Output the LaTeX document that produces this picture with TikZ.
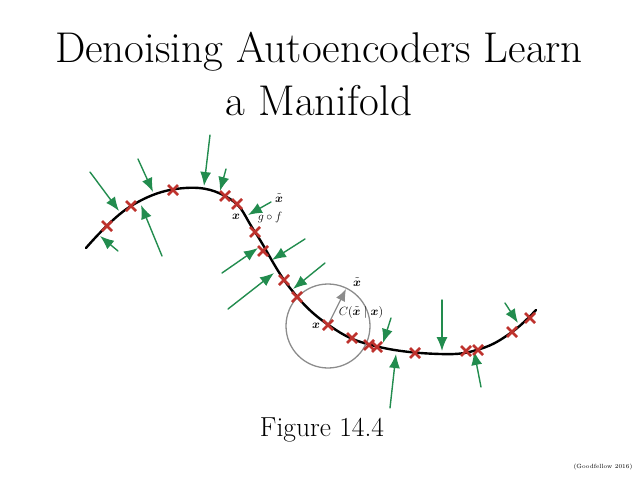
\documentclass[tikz,border=0pt]{standalone}
\usepackage{amsmath,amssymb,bm}
\usetikzlibrary{arrows.meta}
\definecolor{Agreen}{RGB}{34,140,78}
\definecolor{Xred}{RGB}{190,50,45}
\definecolor{Cgray}{RGB}{140,140,140}

\begin{document}
\begin{tikzpicture}[x=1pt,y=-1pt,line cap=round,line join=round,
  push/.style={draw=Agreen,line width=1.4pt,-{Latex[length=14pt,width=11pt]}},
  xmark/.style={draw=Xred,line width=2.6pt,line cap=butt},
  lbl/.style={font=\fontsize{12.5}{14}\selectfont,inner sep=0pt}]
\path[use as bounding box] (0,0) rectangle (638,479);
% title
\node[font=\fontsize{43}{48}\selectfont,anchor=base] (title1) at (319,62) {Denoising Autoencoders Learn};
\node[font=\fontsize{43}{48}\selectfont,anchor=base] (title2) at (319,115) {a Manifold};
% manifold
\draw[line width=2.4pt] plot[smooth,tension=0.7] coordinates {(86,248) (131,206) (185,188) (230,199) (255,232) (290,288) (330,326) (375,346) (440,354) (480,349) (512,332) (536,310)};
% corruption circle
\draw[Cgray,line width=1.3pt] (328,326) circle[radius=42];
\coordinate (xc) at (328,325);
\coordinate (xt) at (346,289);
\draw[Cgray,line width=1.3pt,-{Latex[length=12pt,width=10pt]}] (xc) -- (xt);
% green arrows
\draw[push] (90,172) -- (119,211);
\draw[push] (118,251) -- (100,236);
\draw[push] (138,159) -- (153,192);
\draw[push] (162,256) -- (141,205);
\draw[push] (210,135) -- (204,186);
\draw[push] (226,169) -- (220,191);
\draw[push] (271,202) -- (248,215);
\draw[push] (222,273) -- (258,248);
\draw[push] (305,239) -- (272,260);
\draw[push] (228,309) -- (274,273);
\draw[push] (325,263) -- (293,289);
\draw[push] (391,318) -- (383,343);
\draw[push] (390,408) -- (396,354);
\draw[push] (442,300) -- (442,351);
\draw[push] (481,387) -- (474,351);
\draw[push] (505,303) -- (518,323);
% training samples
\foreach \px/\py in {107/226,131/206,173/190,225/196,237/204,255/232,263/251,284/280,297/297,328/325,352/338,369/345,377/347,415/353,466/351,478/350,512/332,530/318}
  \draw[xmark] (\px-5,\py-5) -- (\px+5,\py+5) (\px-5,\py+5) -- (\px+5,\py-5);
% labels
\node[lbl] (xt1) at (279,198) {$\tilde{\bm{x}}$};
\node[lbl] (x1) at (236,217) {$\bm{x}$};
\node[lbl] (gf) at (270,217) {$g\circ f$};
\node[lbl] (xt2) at (357,282) {$\tilde{\bm{x}}$};
\node[lbl] (cx) at (361,312) {$C(\tilde{\bm{x}}\mid\bm{x})$};
\node[lbl] (x2) at (316,326) {$\bm{x}$};
% caption
\node[font=\fontsize{27.5}{32}\selectfont,anchor=base] (cap) at (322,436) {Figure 14.4};
\node[font=\fontsize{6}{7}\selectfont,anchor=base] (src) at (603,468) {(Goodfellow 2016)};
\end{tikzpicture}
\end{document}
